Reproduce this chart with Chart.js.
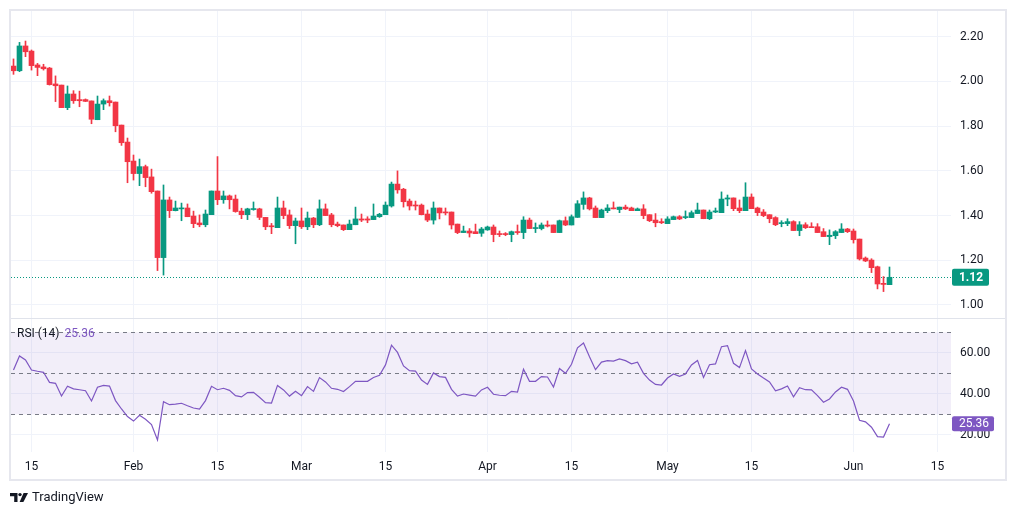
<!DOCTYPE html>
<html>
<head>
<meta charset="utf-8">
<script src="https://cdn.jsdelivr.net/npm/chart.js@4.4.1/dist/chart.umd.min.js"></script>
<style>
  body { margin: 0; background: #fff; width: 1016px; height: 515px; overflow: hidden; position: relative; font-family: Roboto, "Noto Sans", sans-serif; }
  canvas { position: absolute; left: 0; }
  #price { top: 0; }
  #rsi { top: 318px; }
  #frame { position: absolute; left: 9px; top: 9px; width: 998px; height: 472px; box-sizing: border-box; border: 2px solid #e6e7ee; pointer-events: none; }
  #rsiLegend { position: absolute; left: 17px; top: 326px; font-size: 12px; line-height: 14px; color: #131722; }
  #rsiLegend span { color: #7E57C2; margin-left: 5px; }
  #brand { position: absolute; left: 10px; top: 489px; font-size: 13px; line-height: 16px; color: #131722; display: flex; align-items: center; gap: 4px; }
</style>
</head>
<body>
<canvas id="price" width="1016" height="318"></canvas>
<canvas id="rsi" width="1016" height="197"></canvas>
<div id="frame"></div>
<div id="rsiLegend">RSI (14)<span>25.36</span></div>
<div id="brand">
  <svg width="18" height="11" viewBox="0 0 18 11"><path d="M0 1h7.5v9H4.2V4.2H0z" fill="#131722"/><circle cx="10" cy="2.6" r="1.7" fill="#131722"/><path d="M13.6 1H18l-4.6 9H9.6z" fill="#131722"/></svg>
  <span>TradingView</span>
</div>
<script>
// daily candles, 12 Jan 2025 .. 7 Jun 2025 (index 0 = Jan 12)
const tickIdx = [3, 20, 34, 48, 62, 79, 93, 109, 123, 140, 154];
const tickText = ['15', 'Feb', '15', 'Mar', '15', 'Apr', '15', 'May', '15', 'Jun', '15'];
const priceTicks = [1.0, 1.2, 1.4, 1.6, 1.8, 2.0, 2.2];
const rsiTicks = [20, 40, 60];
const rsiLevels = [70, 50, 30];

const open = [
  2.069, 2.048, 2.159, 2.136, 2.074, 2.065, 2.060, 1.989, 1.984, 1.883,
  1.944, 1.919, 1.919, 1.913, 1.829, 1.899, 1.914, 1.908, 1.805, 1.729,
  1.644, 1.588, 1.619, 1.573, 1.510, 1.212, 1.470, 1.422, 1.430, 1.434,
  1.398, 1.367, 1.359, 1.404, 1.510, 1.471, 1.488, 1.474, 1.420, 1.404,
  1.427, 1.430, 1.392, 1.353, 1.346, 1.434, 1.403, 1.355, 1.376, 1.350,
  1.389, 1.359, 1.430, 1.403, 1.362, 1.358, 1.337, 1.359, 1.385, 1.385,
  1.382, 1.395, 1.404, 1.443, 1.541, 1.518, 1.465, 1.447, 1.447, 1.407,
  1.380, 1.434, 1.416, 1.416, 1.362, 1.324, 1.331, 1.328, 1.321, 1.336,
  1.349, 1.319, 1.319, 1.315, 1.328, 1.324, 1.380, 1.342, 1.342, 1.358,
  1.358, 1.324, 1.377, 1.358, 1.392, 1.450, 1.479, 1.434, 1.391, 1.422,
  1.434, 1.427, 1.438, 1.434, 1.422, 1.430, 1.404, 1.380, 1.373, 1.364,
  1.382, 1.395, 1.391, 1.391, 1.409, 1.425, 1.386, 1.416, 1.413, 1.474,
  1.479, 1.434, 1.422, 1.483, 1.434, 1.416, 1.404, 1.391, 1.364, 1.364,
  1.373, 1.333, 1.359, 1.350, 1.350, 1.328, 1.306, 1.310, 1.324, 1.340,
  1.331, 1.295, 1.210, 1.201, 1.171, 1.097, 1.091
];
const high = [
  2.101, 2.175, 2.181, 2.141, 2.081, 2.077, 2.063, 2.025, 1.984, 1.980,
  1.959, 1.957, 1.922, 1.913, 1.935, 1.922, 1.935, 1.908, 1.805, 1.747,
  1.671, 1.653, 1.626, 1.608, 1.510, 1.537, 1.483, 1.465, 1.456, 1.452,
  1.420, 1.403, 1.425, 1.510, 1.664, 1.510, 1.492, 1.492, 1.433, 1.433,
  1.461, 1.433, 1.392, 1.365, 1.483, 1.465, 1.425, 1.389, 1.434, 1.416,
  1.392, 1.470, 1.452, 1.410, 1.371, 1.358, 1.380, 1.438, 1.407, 1.395,
  1.452, 1.410, 1.461, 1.550, 1.600, 1.522, 1.474, 1.465, 1.452, 1.425,
  1.461, 1.434, 1.434, 1.416, 1.362, 1.353, 1.342, 1.362, 1.347, 1.353,
  1.358, 1.331, 1.324, 1.331, 1.358, 1.395, 1.389, 1.367, 1.367, 1.376,
  1.358, 1.380, 1.394, 1.403, 1.467, 1.506, 1.482, 1.443, 1.429, 1.449,
  1.461, 1.438, 1.447, 1.438, 1.434, 1.449, 1.404, 1.409, 1.386, 1.395,
  1.398, 1.400, 1.421, 1.421, 1.456, 1.425, 1.425, 1.434, 1.506, 1.492,
  1.479, 1.470, 1.547, 1.497, 1.438, 1.427, 1.404, 1.395, 1.377, 1.386,
  1.377, 1.373, 1.368, 1.368, 1.364, 1.342, 1.336, 1.333, 1.364, 1.343,
  1.340, 1.295, 1.215, 1.207, 1.174, 1.127, 1.170
];
const low = [
  2.032, 2.044, 2.111, 2.051, 2.026, 2.051, 1.984, 1.910, 1.883, 1.874,
  1.902, 1.887, 1.910, 1.811, 1.829, 1.874, 1.890, 1.775, 1.714, 1.547,
  1.559, 1.534, 1.529, 1.500, 1.154, 1.134, 1.391, 1.421, 1.377, 1.395,
  1.346, 1.350, 1.350, 1.404, 1.449, 1.455, 1.430, 1.415, 1.386, 1.382,
  1.424, 1.382, 1.337, 1.319, 1.346, 1.386, 1.342, 1.274, 1.342, 1.337,
  1.346, 1.355, 1.400, 1.350, 1.350, 1.333, 1.337, 1.359, 1.373, 1.368,
  1.382, 1.392, 1.404, 1.438, 1.500, 1.438, 1.425, 1.425, 1.403, 1.373,
  1.362, 1.385, 1.403, 1.340, 1.319, 1.324, 1.304, 1.319, 1.307, 1.334,
  1.283, 1.306, 1.310, 1.283, 1.316, 1.297, 1.342, 1.324, 1.336, 1.349,
  1.324, 1.324, 1.355, 1.358, 1.392, 1.428, 1.425, 1.391, 1.391, 1.413,
  1.430, 1.413, 1.427, 1.422, 1.422, 1.386, 1.373, 1.350, 1.364, 1.364,
  1.382, 1.382, 1.386, 1.391, 1.409, 1.386, 1.382, 1.413, 1.413, 1.444,
  1.422, 1.413, 1.422, 1.431, 1.400, 1.395, 1.368, 1.355, 1.350, 1.355,
  1.333, 1.310, 1.342, 1.346, 1.324, 1.306, 1.270, 1.297, 1.324, 1.324,
  1.277, 1.201, 1.194, 1.145, 1.072, 1.060, 1.091
];
const close = [
  2.048, 2.159, 2.133, 2.071, 2.063, 2.057, 1.986, 1.981, 1.883, 1.944,
  1.914, 1.914, 1.911, 1.831, 1.899, 1.914, 1.905, 1.802, 1.726, 1.641,
  1.588, 1.619, 1.570, 1.507, 1.212, 1.470, 1.422, 1.434, 1.433, 1.395,
  1.364, 1.359, 1.407, 1.510, 1.471, 1.488, 1.471, 1.418, 1.404, 1.430,
  1.430, 1.392, 1.350, 1.350, 1.434, 1.400, 1.355, 1.376, 1.350, 1.389,
  1.359, 1.430, 1.400, 1.359, 1.355, 1.337, 1.362, 1.385, 1.380, 1.380,
  1.398, 1.406, 1.447, 1.541, 1.515, 1.462, 1.443, 1.443, 1.404, 1.380,
  1.434, 1.412, 1.412, 1.358, 1.324, 1.331, 1.322, 1.319, 1.340, 1.349,
  1.315, 1.315, 1.315, 1.328, 1.324, 1.380, 1.342, 1.344, 1.358, 1.353,
  1.324, 1.377, 1.358, 1.395, 1.453, 1.479, 1.430, 1.391, 1.425, 1.434,
  1.430, 1.438, 1.430, 1.422, 1.430, 1.400, 1.377, 1.368, 1.368, 1.385,
  1.395, 1.385, 1.394, 1.413, 1.425, 1.386, 1.416, 1.421, 1.474, 1.479,
  1.431, 1.422, 1.483, 1.431, 1.413, 1.400, 1.386, 1.359, 1.368, 1.373,
  1.333, 1.359, 1.346, 1.346, 1.324, 1.306, 1.312, 1.328, 1.340, 1.328,
  1.292, 1.206, 1.197, 1.167, 1.094, 1.092, 1.124
];
const rsi = [
  51.6, 58.5, 56.5, 51.6, 51.0, 50.5, 45.6, 45.1, 38.9, 43.7,
  42.4, 42.0, 41.5, 36.5, 43.2, 44.1, 43.8, 36.7, 32.6, 28.9,
  26.7, 29.5, 27.6, 25.0, 17.5, 36.2, 34.7, 35.0, 35.4, 34.2,
  33.1, 32.6, 36.7, 43.7, 42.0, 42.7, 41.7, 39.1, 38.5, 40.6,
  40.7, 38.3, 35.7, 35.5, 44.1, 41.9, 38.9, 41.2, 39.1, 43.5,
  41.2, 47.9, 45.8, 42.7, 42.2, 41.1, 43.5, 46.1, 46.1, 46.1,
  48.0, 49.0, 54.1, 63.7, 60.2, 53.6, 51.3, 51.1, 46.7, 44.6,
  50.2, 48.4, 48.0, 42.2, 38.9, 39.9, 39.4, 38.9, 41.9, 43.2,
  39.8, 39.3, 39.1, 41.2, 40.9, 52.0, 46.1, 46.1, 48.4, 48.2,
  43.3, 52.3, 50.0, 54.4, 62.4, 64.8, 58.1, 51.8, 55.5, 56.2,
  56.0, 57.0, 56.2, 54.6, 55.4, 50.0, 46.7, 44.6, 44.3, 47.7,
  49.7, 48.5, 49.7, 54.1, 56.3, 48.0, 54.2, 54.6, 63.0, 63.5,
  54.9, 52.8, 61.1, 52.1, 49.7, 47.7, 45.8, 41.5, 42.4, 43.8,
  38.5, 43.0, 42.0, 41.9, 39.1, 35.9, 37.5, 40.9, 43.2, 42.2,
  36.5, 27.1, 26.3, 23.7, 19.1, 18.9, 25.36
];

const up = '#089981';
const down = '#F23645';
const purple = '#7E57C2';
const gridColor = '#f0f3fa';
const textColor = '#131722';
const font = { family: 'Roboto, "Noto Sans", sans-serif', size: 12 };

const candleColors = close.map((c, i) => (c >= open[i] ? up : down));
const xMin = -0.4167, xMax = 156.25;

const xTicks = scale => { scale.ticks = tickIdx.map(v => ({ value: v })); };
// keep the plot area exactly where the padding puts it
const noPad = s => { s.paddingTop = 0; s.paddingBottom = 0; s.paddingLeft = 0; s.paddingRight = 0; };

// last price dotted line and tag
const lastPrice = {
  id: 'lastPrice',
  beforeDatasetsDraw(chart) {
    const { ctx, chartArea: a, scales: { y } } = chart;
    const py = Math.round(y.getPixelForValue(close[close.length - 1])) + 0.5;
    ctx.save();
    ctx.strokeStyle = up;
    ctx.lineWidth = 1;
    ctx.setLineDash([1, 2]);
    ctx.beginPath();
    ctx.moveTo(a.left, py);
    ctx.lineTo(a.right, py);
    ctx.stroke();
    ctx.restore();
  },
  afterDraw(chart) {
    const { ctx, chartArea: a, scales: { y } } = chart;
    const last = close[close.length - 1];
    const py = y.getPixelForValue(last);
    ctx.save();
    ctx.fillStyle = up;
    ctx.beginPath();
    ctx.roundRect(a.right + 1, py - 8.5, 37, 17, 2);
    ctx.fill();
    ctx.fillStyle = '#fff';
    ctx.font = 'bold 12px Roboto, sans-serif';
    ctx.textAlign = 'center';
    ctx.textBaseline = 'middle';
    ctx.fillText(last.toFixed(2), a.right + 20, py + 0.5);
    ctx.restore();
  }
};

// RSI band, level lines, pane separator and value tag
const rsiBands = {
  id: 'rsiBands',
  beforeDraw(chart) {
    const { ctx } = chart;
    ctx.save();
    ctx.strokeStyle = '#e0e3eb';
    ctx.lineWidth = 1;
    ctx.beginPath();
    ctx.moveTo(10, 0.5);
    ctx.lineTo(1007, 0.5);
    ctx.stroke();
    ctx.restore();
  },
  beforeDatasetsDraw(chart) {
    const { ctx, chartArea: a, scales: { y } } = chart;
    const top = y.getPixelForValue(rsiLevels[0]);
    const bot = y.getPixelForValue(rsiLevels[2]);
    ctx.save();
    ctx.fillStyle = 'rgba(126, 87, 194, 0.1)';
    ctx.fillRect(a.left, top, a.right - a.left, bot - top);
    ctx.strokeStyle = '#787B86';
    ctx.lineWidth = 1;
    ctx.setLineDash([4, 4]);
    rsiLevels.forEach(v => {
      const py = Math.round(y.getPixelForValue(v)) + 0.5;
      ctx.beginPath();
      ctx.moveTo(a.left, py);
      ctx.lineTo(a.right, py);
      ctx.stroke();
    });
    ctx.restore();
  },
  afterDraw(chart) {
    const { ctx, chartArea: a, scales: { y } } = chart;
    const last = rsi[rsi.length - 1];
    const py = y.getPixelForValue(last);
    ctx.save();
    ctx.fillStyle = purple;
    ctx.beginPath();
    ctx.roundRect(a.right + 1, py - 7.5, 42, 15, 2);
    ctx.fill();
    ctx.fillStyle = '#fff';
    ctx.font = '12px Roboto, sans-serif';
    ctx.textAlign = 'center';
    ctx.textBaseline = 'middle';
    ctx.fillText(last.toFixed(2), a.right + 23, py + 0.5);
    ctx.restore();
  }
};

new Chart(document.getElementById('price'), {
  type: 'bar',
  data: {
    datasets: [
      {
        label: 'body',
        data: close.map((c, i) => ({ x: i, y: [open[i], c] })),
        backgroundColor: candleColors,
        barThickness: 5,
        minBarLength: 1,
        grouped: false
      },
      {
        label: 'wick',
        data: close.map((c, i) => ({ x: i, y: [low[i], high[i]] })),
        backgroundColor: candleColors,
        barThickness: 1,
        grouped: false
      }
    ]
  },
  options: {
    responsive: false,
    animation: false,
    layout: { padding: { left: 11, top: 11, right: 10, bottom: 0 } },
    plugins: { legend: { display: false }, tooltip: { enabled: false } },
    scales: {
      x: {
        type: 'linear', min: xMin, max: xMax, offset: false,
        grid: { color: gridColor, drawTicks: false, offset: false },
        border: { display: false },
        ticks: { display: false },
        afterBuildTicks: xTicks,
        afterFit: s => { s.height = 0; noPad(s); }
      },
      y: {
        position: 'right', min: 0.9418, max: 2.3154,
        grid: { color: gridColor, drawTicks: false },
        border: { display: false },
        ticks: { color: textColor, font: font, padding: 9, callback: v => v.toFixed(2) },
        afterBuildTicks: s => { s.ticks = priceTicks.map(v => ({ value: v })); },
        afterFit: s => { s.width = 55; noPad(s); }
      }
    }
  },
  plugins: [lastPrice]
});

new Chart(document.getElementById('rsi'), {
  type: 'line',
  data: {
    datasets: [{
      label: 'RSI (14)',
      data: rsi.map((v, i) => ({ x: i, y: v })),
      borderColor: purple,
      borderWidth: 1.2,
      pointRadius: 0,
      tension: 0
    }]
  },
  options: {
    responsive: false,
    animation: false,
    layout: { padding: { left: 11, top: 1, right: 10, bottom: 36 } },
    plugins: { legend: { display: false }, tooltip: { enabled: false } },
    scales: {
      x: {
        type: 'linear', min: xMin, max: xMax,
        grid: { color: gridColor, drawTicks: false },
        border: { display: false },
        ticks: {
          color: textColor, font: font, padding: 8, maxRotation: 0,
          callback: v => tickText[tickIdx.indexOf(v)]
        },
        afterBuildTicks: xTicks,
        afterFit: s => { s.height = 27; noPad(s); }
      },
      y: {
        position: 'right', min: 11.62, max: 76.5,
        grid: { color: gridColor, drawTicks: false },
        border: { display: false },
        ticks: { color: textColor, font: font, padding: 9, callback: v => v.toFixed(2) },
        afterBuildTicks: s => { s.ticks = rsiTicks.map(v => ({ value: v })); },
        afterFit: s => { s.width = 55; noPad(s); }
      }
    }
  },
  plugins: [rsiBands]
});
</script>
</body>
</html>
